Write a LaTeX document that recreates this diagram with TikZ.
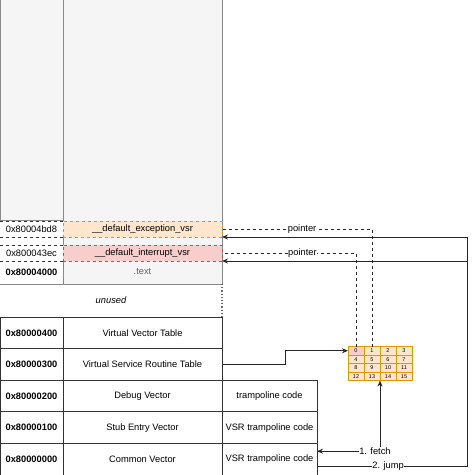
\documentclass[tikz,border=0pt]{standalone}
\usepackage{fontspec}
\setmainfont{Liberation Sans}
\usetikzlibrary{arrows.meta}
\definecolor{graybg}{HTML}{F5F5F5}
\definecolor{grayline}{HTML}{888888}
\definecolor{orangebg}{HTML}{FFE6CC}
\definecolor{orangeline}{HTML}{D79B00}
\definecolor{redbg}{HTML}{F8CECC}
\definecolor{redline}{HTML}{B85450}

\begin{document}
\begin{tikzpicture}[
  x=1pt, y=-1pt,
  every node/.style={inner sep=0pt, outer sep=0pt, font=\fontsize{9.3}{11}\selectfont},
  box/.style={draw=black!80, line width=1pt, minimum height=31.6pt},
  addr/.style={box, minimum width=63pt, font=\fontsize{9.3}{11}\selectfont\bfseries},
  entry/.style={box, minimum width=159pt},
  code/.style={box, minimum width=95pt},
  greyblock/.style={draw=grayline, line width=1pt, fill=graybg},
  slot/.style={minimum height=16pt, dashed, line width=0.8pt},
  rule/.style={draw=black!80, line width=0.8pt, dashed},
  cell/.style={draw=orangeline, fill=orangebg, line width=0.6pt, minimum width=16pt,
    minimum height=8.5pt, font=\fontsize{5.5}{6}\selectfont},
  % solid arrows are the fetch/jump paths, dashed lines the stored pointers
  arrow/.style={draw=black!85, line width=1pt, -{Stealth[length=6pt,width=5pt]}},
  twoway/.style={draw=black!85, line width=1pt,
    {Stealth[length=6pt,width=5pt]}-{Stealth[length=6pt,width=5pt]}},
  link/.style={draw=black!85, line width=0.8pt, dashed},
  tag/.style={fill=white, inner sep=0.6pt}]

  \useasboundingbox (0,0) rectangle (474,475);

  % memory above 0x80004000
  \node[greyblock, minimum width=63pt, minimum height=224pt]  (top) at (31.5,108) {};
  \node[greyblock, minimum width=159pt, minimum height=288pt] (mem) at (142.5,140) {};
  \node[text=black!60] (text) at (142.5,272) {.text};

  % vsr entries
  \node[slot, minimum width=63pt] (excaddr) at (31.5,229) {0x80004bd8};
  \node[slot, draw=orangeline, fill=orangebg, minimum width=159pt] (exc) at (142.5,229)
    {\_\_default\_exception\_vsr};
  \node[slot, minimum width=63pt] (intraddr) at (31.5,253) {0x800043ec};
  \node[slot, draw=redline, fill=redbg, minimum width=159pt] (intr) at (142.5,253)
    {\_\_default\_interrupt\_vsr};
  \draw[rule] (excaddr.north west) -- (excaddr.north east);
  \draw[rule] (excaddr.south west) -- (excaddr.south east);
  \draw[rule] (intraddr.north west) -- (intraddr.north east);
  \draw[rule] (intraddr.south west) -- (intraddr.south east);
  \node[font=\fontsize{9.3}{11}\selectfont\bfseries, minimum width=63pt, minimum height=23pt]
    (baseaddr) at (31.5,272.5) {0x80004000};
  \draw[draw=grayline, line width=1pt] (baseaddr.south west) -- (baseaddr.south east);

  \node[font=\fontsize{9.3}{11}\selectfont\itshape, minimum width=222pt, minimum height=33pt]
    (unused) at (111,300.5) {unused};
  \draw[draw=black!60, line width=1.2pt, dotted] (unused.north east) -- (unused.south east);

  % vector area
  \node[addr]  (vvtaddr)  at (31.5,332.8)  {0x80000400};
  \node[entry] (vvt)      at (142.5,332.8) {Virtual Vector Table};
  \node[addr]  (vsrtaddr) at (31.5,364.4)  {0x80000300};
  \node[entry] (vsrt)     at (142.5,364.4) {Virtual Service Routine Table};
  \node[addr]  (dbgaddr)  at (31.5,396)    {0x80000200};
  \node[entry] (dbg)      at (142.5,396)   {Debug Vector};
  \node[code]  (dbgcode)  at (269.5,396)   {trampoline code};
  \node[addr]  (stubaddr) at (31.5,427.6)  {0x80000100};
  \node[entry] (stub)     at (142.5,427.6) {Stub Entry Vector};
  \node[code]  (stubcode) at (269.5,427.6) {VSR trampoline code};
  \node[addr]  (comaddr)  at (31.5,459.2)  {0x80000000};
  \node[entry] (com)      at (142.5,459.2) {Common Vector};
  \node[code]  (comcode)  at (269.5,459.2) {VSR trampoline code};

  % vsr table, 4 x 4
  \node[cell, fill=redbg] (c0) at (356,350.75) {0};
  \node[cell] (c1)  at (372,350.75) {1};
  \node[cell] (c2)  at (388,350.75) {2};
  \node[cell] (c3)  at (404,350.75) {3};
  \node[cell] (c4)  at (356,359.25) {4};
  \node[cell] (c5)  at (372,359.25) {5};
  \node[cell] (c6)  at (388,359.25) {6};
  \node[cell] (c7)  at (404,359.25) {7};
  \node[cell] (c8)  at (356,367.75) {8};
  \node[cell] (c9)  at (372,367.75) {9};
  \node[cell] (c10) at (388,367.75) {10};
  \node[cell] (c11) at (404,367.75) {11};
  \node[cell] (c12) at (356,376.25) {12};
  \node[cell] (c13) at (372,376.25) {13};
  \node[cell] (c14) at (388,376.25) {14};
  \node[cell] (c15) at (404,376.25) {15};

  % connectors
  \coordinate (jumpcorner) at (467,237);
  \draw[arrow] (vsrt.east) -- ++(63,0) |- (c0.west);
  \draw[link] (c0.north) |- node[tag, pos=0.7] {pointer} (intr.east);
  \draw[link] (c1.north) |- node[tag, pos=0.733] {pointer} (exc.east);
  \draw[twoway] (c13.south east) |- node[tag, pos=0.54] {1. fetch} ([yshift=8pt]comcode.east);
  \draw[arrow] ([yshift=-7pt]comcode.east) -| node[tag, pos=0.237] {2. jump} (jumpcorner)
    -- (exc.south east);
  \draw[arrow] (jumpcorner |- intr.south east) -- (intr.south east);
\end{tikzpicture}
\end{document}
